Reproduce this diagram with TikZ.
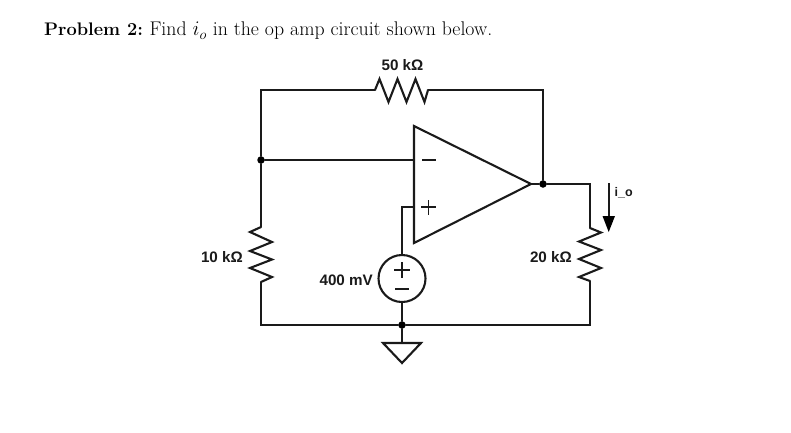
\documentclass[tikz,border=0pt]{standalone}
\usepackage{fontspec}
\newfontfamily\labelfont{Liberation Sans}
\usetikzlibrary{arrows.meta}
\definecolor{ink}{HTML}{1A1A1A}
\tikzset{
  wire/.style={draw=ink,line width=2.1pt,line cap=round,line join=miter},
  dotj/.style={circle,fill=black,inner sep=0pt,minimum size=7.5pt},
  val/.style={font=\labelfont\bfseries\fontsize{15.2}{17}\selectfont,text=ink,inner sep=0pt},
  sign/.style={draw=ink,line width=1.5pt},
}
\begin{document}
\begin{tikzpicture}[x=1pt,y=-1pt]
\useasboundingbox (0,0) rectangle (791,432);
% title
\node[anchor=west,inner sep=0pt,font=\fontsize{19.8}{22}\selectfont] (title) at (44,31) {{\fontsize{18.2}{22}\selectfont\textbf{Problem 2:}}\hspace{-1.5pt} Find $i_o$ in the op amp circuit shown below.};
% named points
\coordinate (TL) at (261,90);
\coordinate (TR) at (543,90);
\coordinate (R1a) at (375,90);
\coordinate (R1b) at (428,90);
\coordinate (R2a) at (261,227);
\coordinate (R2b) at (261,282);
\coordinate (R3a) at (590,228);
\coordinate (R3b) at (590,281);
\coordinate (BL) at (261,325);
\coordinate (BR) at (590,325);
\coordinate (OR) at (590,184);
\coordinate (A1) at (414,126);
\coordinate (A2) at (414,243);
\coordinate (A3) at (531,184);
\coordinate (NI) at (414,207);
\coordinate (NIc) at (402,207);
\coordinate (INV) at (414,160);
\coordinate (G) at (402,343);
% op amp
\draw[wire] (A1) -- (A2) -- (A3) -- cycle;
\draw[sign] (422,160) -- (436,160);
\draw[sign] (421,207) -- (436,207) (428.5,200) -- (428.5,215);
% junctions
\node[dotj] (J1) at (261,160) {};
\node[dotj] (J2) at (543,184) {};
\node[dotj] (J3) at (402,325) {};
% source
\node[circle,draw=ink,line width=2.1pt,minimum size=47pt,inner sep=0pt] (V) at (402,278.5) {};
\draw[sign] (394,270) -- (410,270) (402,262) -- (402,278);
\draw[sign] (395,289) -- (409,289);
% wires
\draw[wire] (J1) -- (TL) -- (R1a);
\draw[wire] (R1b) -- (TR) -- (J2);
\draw[wire] (J1) -- (INV);
\draw[wire] (J1) -- (R2a);
\draw[wire] (R2b) -- (BL) -- (J3);
\draw[wire] (J3) -- (BR) -- (R3b);
\draw[wire] (R3a) -- (OR) -- (J2);
\draw[wire] (A3) -- (J2);
\draw[wire] (NI) -- (NIc) -- (V.north);
\draw[wire] (V.south) -- (J3);
\draw[wire] (J3) -- (G);
% ground
\draw[wire] (383,343) -- (421,343) -- (402,363) -- cycle;
% resistors
\draw[wire,line cap=butt] (R1a) -- (379.5,79) -- (388.5,102) -- (397.5,79) -- (406.5,102) -- (415.5,79) -- (424.5,102) -- (R1b);
\draw[wire,line cap=butt] (R2a) -- (250,232) -- (272,242) -- (250,251) -- (272,259.5) -- (250,268) -- (272,277) -- (R2b);
\draw[wire,line cap=butt] (R3a) -- (601,232.5) -- (579,241.5) -- (601,250) -- (579,259) -- (601,268) -- (579,277) -- (R3b);
% current arrow
\coordinate (Ia) at (608.7,183);
\coordinate (Ib) at (608.7,232);
\draw[draw=ink,line width=1.7pt] (Ia) -- (608.7,220);
\fill[black] (602.5,216) -- (615,216) -- (Ib) -- cycle;
% labels
\node[val] (l50) at (402.5,65) {50 kΩ};
\node[val,anchor=east] (l10) at (243,257) {10 kΩ};
\node[val,anchor=east] (l400) at (373,280) {400 mV};
\node[val,anchor=east] (l20) at (572,257) {20 kΩ};
\node[val,anchor=west,font=\labelfont\bfseries\fontsize{12.5}{14}\selectfont] (lio) at (614.5,193) {i\_o};
\end{tikzpicture}
\end{document}
